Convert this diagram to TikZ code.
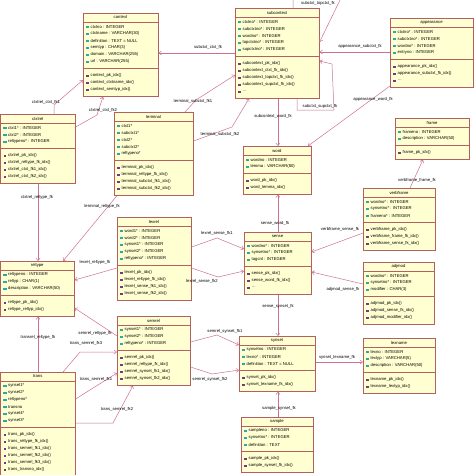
\documentclass[tikz,border=0pt]{standalone}
\usepackage{fontspec}
\setmainfont{Liberation Sans}
\usetikzlibrary{arrows.meta}

\definecolor{boxfill}{RGB}{255,255,210}
\definecolor{boxline}{RGB}{178,96,96}
\definecolor{linkline}{RGB}{206,112,150}
\definecolor{colicon}{RGB}{40,170,170}
\definecolor{idxicon}{RGB}{110,60,130}

\newcommand\tabfont{\fontsize{4.2}{5}\selectfont}

\tikzset{
  tablebox/.style={draw=boxline, fill=boxfill, line width=0.6pt, inner sep=0pt},
  tableline/.style={draw=boxline, line width=0.5pt},
  rowtext/.style={anchor=west, inner sep=0pt, font=\tabfont},
  fk/.style={draw=linkline, line width=0.5pt, -{Straight Barb[length=2.5pt,width=4pt]}},
  fklabel/.style={inner sep=0pt, font=\tabfont},
}

% table: name, top left, width, title, columns, indexes
\newcommand{\dbtable}[6]{%
  \foreach \colname [count=\i] in {#5} {\xdef\ncols{\i}}%
  \foreach \idxname [count=\i] in {#6} {\xdef\nidx{\i}}%
  \pgfmathsetmacro\sepb{9+7*\ncols+4}%
  \pgfmathsetmacro\boxh{\sepb+7*\nidx+7}%
  \begin{scope}[shift={#2}]
    \node[tablebox, minimum width=#3pt, minimum height=\boxh pt, anchor=north west] (#1) at (0,0) {};
    \node[rowtext, anchor=center] (#1-title) at (#3/2,4.6) {#4};
    \draw[tableline] (0,9) -- (#3,9);
    \draw[tableline] (0,\sepb) -- (#3,\sepb);
    \foreach \colname [count=\i] in {#5} {
      \pgfmathsetmacro\rowy{9+1.2+7*\i-3.5}
      \fill[colicon] (2.5,\rowy-1.1) rectangle (6,\rowy+1.1);
      \node[rowtext] (#1-c\i) at (7.5,\rowy) {\colname};
    }
    \foreach \idxname [count=\i] in {#6} {
      \pgfmathsetmacro\rowy{\sepb+4+7*\i-3.5}
      \fill[idxicon] (3,\rowy-1) rectangle (5.5,\rowy+1);
      \node[rowtext] (#1-m\i) at (7.5,\rowy) {\idxname};
    }
  \end{scope}%
}

\begin{document}
\catcode`\_=12
\begin{tikzpicture}[x=1pt,y=-1pt]
  \fill[white] (0,0) rectangle (474,475);
  \useasboundingbox (0,0) rectangle (474,475);

  % tables
  \dbtable{context}{(83,13)}{75}{context}
    {ctxtno : INTEGER,ctxtname : VARCHAR(30),definition : TEXT = NULL,semtyp : CHAR(3),domain : VARCHAR(255),url : VARCHAR(255)}
    {context_pk_idx(),context_ctxtname_idx(),context_semtyp_idx()}
  \dbtable{subcontext}{(235,8)}{84}{subcontext}
    {ctxtno* : INTEGER,subctxtno* : INTEGER,wordno* : INTEGER,topctxtno* : INTEGER,supctxtno* : INTEGER}
    {subcontext_pk_idx(),subcontext_ctxt_fk_idx(),subcontext_topctxt_fk_idx(),subcontext_supctxt_fk_idx(),\ldots}
  \dbtable{appearance}{(390,18)}{83}{appearance}
    {ctxtno* : INTEGER,subctxtno* : INTEGER,wordno* : INTEGER,entryno : INTEGER}
    {appearance_pk_idx(),appearance_subctxt_fk_idx(),\ldots}
  \dbtable{ctxtrel}{(0.5,114)}{74.5}{ctxtrel}
    {ctxt1* : INTEGER,ctxt2* : INTEGER,reltypeno* : INTEGER}
    {ctxtrel_pk_idx(),ctxtrel_reltype_fk_idx(),ctxtrel_ctxt_fk1_idx(),ctxtrel_ctxt_fk2_idx()}
  \dbtable{terminal}{(114,112)}{79}{terminal}
    {ctxt1*,subctxt1*,ctxt2*,subctxt2*,reltypeno*}
    {terminal_pk_idx(),terminal_reltype_fk_idx(),terminal_subctxt_fk1_idx(),terminal_subctxt_fk2_idx()}
  \dbtable{word}{(243,146)}{68}{word}
    {wordno : INTEGER,lemma : VARCHAR(80)}
    {word_pk_idx(),word_lemma_idx()}
  \dbtable{frame}{(395,118)}{74}{frame}
    {frameno : INTEGER,description : VARCHAR(50)}
    {frame_pk_idx()}
  \dbtable{verbframe}{(363,188)}{72}{verbframe}
    {wordno* : INTEGER,synsetno* : INTEGER,frameno* : INTEGER}
    {verbframe_pk_idx(),verbframe_frame_fk_idx(),verbframe_sense_fk_idx()}
  \dbtable{sense}{(244,232)}{67}{sense}
    {wordno* : INTEGER,synsetno* : INTEGER,tagcnt : INTEGER}
    {sense_pk_idx(),sense_word_fk_idx(),\ldots}
  \dbtable{adjmod}{(363,262)}{71}{adjmod}
    {wordno* : INTEGER,synsetno* : INTEGER,modifier : CHAR(3)}
    {adjmod_pk_idx(),adjmod_sense_fk_idx(),adjmod_modifier_idx()}
  \dbtable{lexrel}{(117,217)}{74}{lexrel}
    {word1* : INTEGER,word2* : INTEGER,synset1* : INTEGER,synset2* : INTEGER,reltypeno* : INTEGER}
    {lexrel_pk_idx(),lexrel_reltype_fk_idx(),lexrel_sense_fk1_idx(),lexrel_sense_fk2_idx()}
  \dbtable{reltype}{(0.5,261)}{73.5}{reltype}
    {reltypeno : INTEGER,reltyp : CHAR(1),description : VARCHAR(50)}
    {reltype_pk_idx(),reltype_reltyp_idx()}
  \dbtable{semrel}{(117,316)}{73}{semrel}
    {synset1* : INTEGER,synset2* : INTEGER,reltypeno* : INTEGER}
    {semrel_pk_idx(),semrel_reltype_fk_idx(),semrel_synset_fk1_idx(),semrel_synset_fk2_idx()}
  \dbtable{trans}{(0.5,372)}{74.5}{trans}
    {synset1*,synset2*,reltypeno*,transno,synset4*,synset3*}
    {trans_pk_idx(),trans_reltype_fk_idx(),trans_semrel_fk1_idx(),trans_semrel_fk2_idx(),trans_semrel_fk3_idx(),trans_transno_idx()}
  \dbtable{synset}{(239,336)}{76}{synset}
    {synsetno : INTEGER,lexno* : INTEGER,definition : TEXT = NULL}
    {synset_pk_idx(),synset_lexname_fk_idx()}
  \dbtable{lexname}{(363,338)}{72}{lexname}
    {lexno : INTEGER,lextyp : VARCHAR(5),description : VARCHAR(50)}
    {lexname_pk_idx(),lexname_lextyp_idx()}
  \dbtable{sample}{(241,417)}{72}{sample}
    {sampleno : INTEGER,synsetno* : INTEGER,definition : TEXT}
    {sample_pk_idx(),sample_synset_fk_idx()}

  % foreign keys
  \draw[fk] (54,0 |- ctxtrel.north) -- (54,105) -- (context.west |- 0,80);
  \node[fklabel] (lctxt1) at (46,102) {ctxtrel_ctxt_fk1};
  \draw[fk] (ctxtrel.east |- 0,127) -- (97,115) -- (103,0 |- context.south);
  \node[fklabel] (lctxt2) at (103,110) {ctxtrel_ctxt_fk2};
  \draw[fk] (subcontext.west |- 0,53) -- (context.east |- 0,53);
  \node[fklabel] (lsubctxt) at (208,47) {subctxt_ctxt_fk};
  \draw[fk] (185,0 |- terminal.north) -- (196,100) -- (subcontext.west |- 0,75);
  \node[fklabel] (lterm1) at (193,101) {terminal_subctxt_fk1};
  \draw[fk] (terminal.east |- 0,141) -- (232,127) -- (249,0 |- subcontext.south);
  \node[fklabel] (lterm2) at (220,134) {terminal_subctxt_fk2};
  \draw[fk] (278,0 |- subcontext.south) -- (278,0 |- word.north);
  \node[fklabel] (lsubword) at (273,116) {subcontext_word_fk};
  \draw[fk] (appearance.west |- 0,52) -- (subcontext.east |- 0,52);
  \node[fklabel] (lappsub) at (360,46) {appearance_subctxt_fk};
  \draw[fk] (appearance.west |- 0,86) -- (308,0 |- word.north);
  \node[fklabel] (lappword) at (373,99) {appearance_word_fk};
  \draw[fk] (293,0 |- subcontext.north) -- (293,-2) -- (341,-2) -- (subcontext.east |- 0,42);
  \node[fklabel] (ltop) at (318,3) {subctxt_topctxt_fk};
  \draw[fk] (297,0 |- subcontext.south) -- (297,110) -- (334,110) -- (332,64) -- (subcontext.east |- 0,61);
  \node[fklabel] (lsup) at (320,106) {subctxt_supctxt_fk};
  \draw[fk] (278,0 |- sense.north) -- (278,0 |- word.south);
  \node[fklabel] (lsenseword) at (275,223) {sense_word_fk};
  \draw[fk] (410,0 |- verbframe.north) -- (423,0 |- frame.south);
  \node[fklabel] (lvfframe) at (417,180) {verbframe_frame_fk};
  \draw[fk] (verbframe.west |- 0,233) -- (sense.east |- 0,252);
  \node[fklabel] (lvfsense) at (340,229) {verbframe_sense_fk};
  \draw[fk] (adjmod.west |- 0,284) -- (sense.east |- 0,272);
  \node[fklabel] (ladjsense) at (343,289) {adjmod_sense_fk};
  \draw[fk] (278,0 |- sense.south) -- (278,0 |- synset.north);
  \node[fklabel] (lsensesyn) at (278,306) {sense_synset_fk};
  \draw[fk] (lexrel.east |- 0,247) -- (217,238) -- (sense.west |- 0,249);
  \node[fklabel] (llex1) at (217,233) {lexrel_sense_fk1};
  \draw[fk] (lexrel.east |- 0,268) -- (218,277) -- (sense.west |- 0,271);
  \node[fklabel] (llex2) at (202,281) {lexrel_sense_fk2};
  \draw[fk] (lexrel.west |- 0,268) -- (reltype.east |- 0,280);
  \node[fklabel] (llexrel) at (95,262) {lexrel_reltype_fk};
  \draw[fk] (117,0 |- terminal.south) -- (63,0 |- reltype.north);
  \node[fklabel] (ltermrel) at (102,206) {terminal_reltype_fk};
  \draw[fk] (38,0 |- ctxtrel.south) -- (38,0 |- reltype.north);
  \node[fklabel] (lctxtrel) at (37,197) {ctxtrel_reltype_fk};
  \draw[fk] (semrel.west |- 0,336) -- (reltype.east |- 0,308);
  \node[fklabel] (lsemrel) at (95,333) {semrel_reltype_fk};
  \draw[fk] (38,0 |- trans.north) -- (38,0 |- reltype.south);
  \node[fklabel] (ltransrel) at (38,337) {transrel_reltype_fk};
  \draw[fk] (63,0 |- trans.north) -- (80,352) -- (semrel.west |- 0,352);
  \node[fklabel] (ltrans3) at (86,343) {trans_semrel_fk3};
  \draw[fk] (trans.east |- 0,399) -- (semrel.west |- 0,373);
  \node[fklabel] (ltrans1) at (96,379) {trans_semrel_fk1};
  \draw[fk] (trans.east |- 0,423) -- (113,423) -- (133,0 |- semrel.south);
  \node[fklabel] (ltrans2) at (117,409) {trans_semrel_fk2};
  \draw[fk] (semrel.east |- 0,342) -- (217,335) -- (synset.west |- 0,345);
  \node[fklabel] (lsyn1) at (225,331) {semrel_synset_fk1};
  \draw[fk] (semrel.east |- 0,367) -- (212,374) -- (synset.west |- 0,370);
  \node[fklabel] (lsyn2) at (210,379) {semrel_synset_fk2};
  \draw[fk] (synset.east |- 0,362) -- (lexname.west |- 0,362);
  \node[fklabel] (llexname) at (337,357) {synset_lexname_fk};
  \draw[fk] (278,0 |- sample.north) -- (278,0 |- synset.south);
  \node[fklabel] (lsample) at (279,408) {sample_synset_fk};
\end{tikzpicture}
\end{document}
